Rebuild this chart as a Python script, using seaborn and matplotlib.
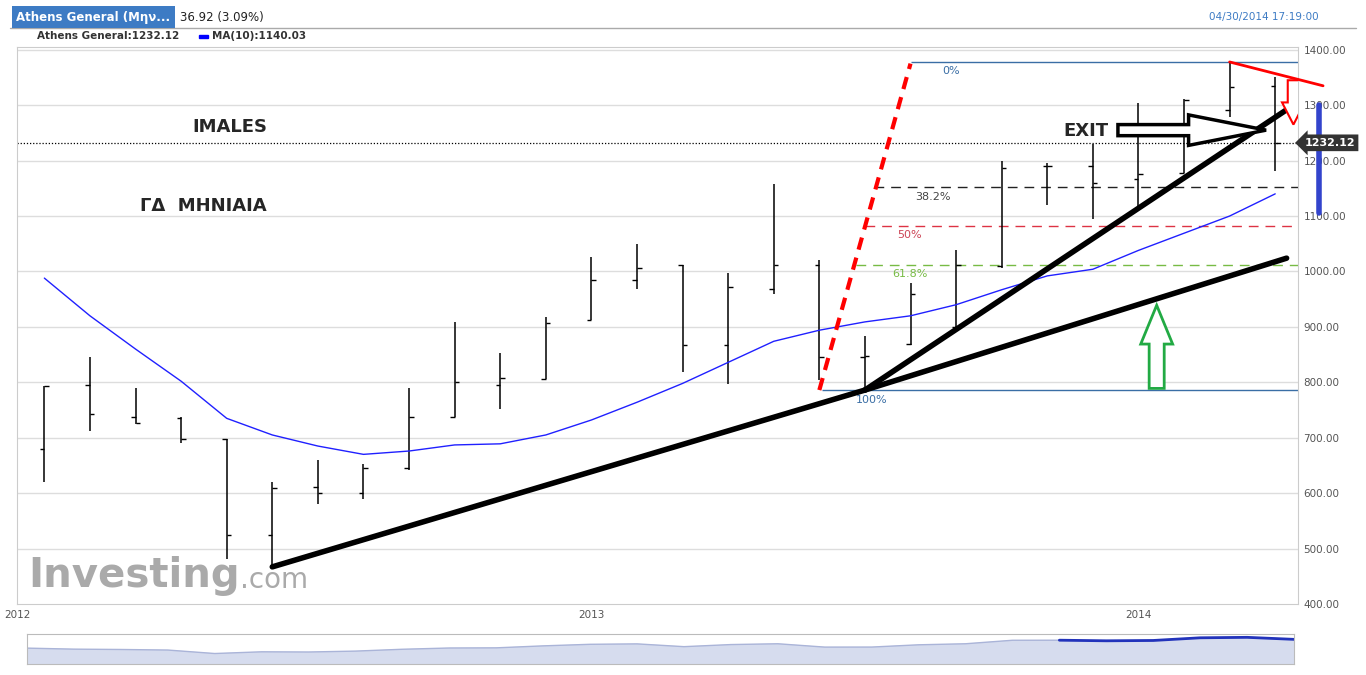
import numpy as np
import pandas as pd
import matplotlib
matplotlib.use("Agg")
import matplotlib.pyplot as plt
import seaborn as sns
from matplotlib.patches import FancyArrow

sns.set_style("white")
plt.rcParams['font.family'] = ['DejaVu Sans']

# monthly bars, Jan 2012 .. Apr 2014
opens = [680, 795, 737, 735, 698, 524, 611, 600, 645, 737, 795, 806, 912, 985, 1012, 867,
         968, 1012, 845, 870, 900, 1010, 1191, 1190, 1167, 1178, 1292, 1335]
highs = [794, 846, 789, 737, 698, 620, 660, 652, 790, 909, 853, 918, 1026, 1050, 1012, 997,
         1158, 1020, 883, 979, 1038, 1200, 1196, 1230, 1304, 1311, 1378, 1351]
lows = [620, 713, 724, 690, 482, 467, 580, 590, 642, 737, 752, 806, 912, 968, 819, 797,
        959, 804, 786, 867, 894, 1006, 1120, 1095, 1114, 1178, 1279, 1182]
closes = [794, 743, 726, 698, 524, 610, 600, 645, 737, 800, 808, 907, 985, 1006, 867, 972,
          1012, 845, 847, 960, 1012, 1187, 1190, 1160, 1176, 1310, 1333, 1232.12]
ma10 = [988, 920, 860, 802, 735, 705, 685, 670, 676, 687, 689, 705, 732, 764, 798, 836,
        874, 894, 909, 920, 940, 967, 992, 1004, 1038, 1069, 1100, 1140.03]
year_ticks = [-0.6, 12, 24]
year_labels = ["2012", "2013", "2014"]
fib_pcts = ["0%", "38.2%", "50%", "61.8%", "100%"]
fib_vals = [1378, 1152, 1082, 1012, 786]

df = pd.DataFrame({"i": np.arange(len(opens)), "open": opens, "high": highs,
                   "low": lows, "close": closes, "ma": ma10})

fig = plt.figure(figsize=(13.66, 6.75), dpi=100)
fig.patch.set_facecolor("white")
ax = fig.add_axes([17/1366, 1-604/675, (1298-17)/1366, (604-47)/675])
ax.set_xlim(-0.6, 27.5)
ax.set_ylim(400, 1405)
for v in range(500, 1401, 100):
    ax.axhline(v, color="#dddddd", lw=1, zorder=0)

# OHLC bars
ax.vlines(df["i"], df["low"], df["high"], color="black", lw=1.1, zorder=3)
ax.hlines(df["open"], df["i"] - 0.1, df["i"], color="black", lw=1, zorder=3)
ax.hlines(df["close"], df["i"], df["i"] + 0.1, color="black", lw=1, zorder=3)
sns.lineplot(data=df, x="i", y="ma", ax=ax, color="#2020ff", lw=1, zorder=4)

# fib levels
ax.hlines(fib_vals[0], 19, 27.5, color="#3a6ea5", lw=1)
ax.hlines(fib_vals[4], 17.05, 27.5, color="#3a6ea5", lw=1)
ax.hlines(fib_vals[1], 18.2, 27.5, color="#222222", lw=1, linestyles=(0, (7, 5)))
ax.hlines(fib_vals[2], 18.0, 27.5, color="#dd3344", lw=1, linestyles=(0, (7, 5)))
ax.hlines(fib_vals[3], 17.8, 27.5, color="#77bb44", lw=1, linestyles=(0, (7, 5)))
fcol = ["#3a6ea5", "#444444", "#cc4455", "#77bb44", "#3a6ea5"]
fx = [19.7, 19.1, 18.7, 18.6, 17.8]
for p, v, c, x in zip(fib_pcts, fib_vals, fcol, fx):
    ax.text(x, v - 8, p, color=c, fontsize=8, va="top")

ax.axhline(1232.12, color="black", lw=0.9, ls=(0, (1, 1.5)), zorder=2)

# drawings
ax.plot([17, 19], [786, 1375], color="red", lw=3, ls=(0, (3, 2)), zorder=5)
ax.plot([5, 18], [467, 786], color="black", lw=4, zorder=5)
ax.plot([18, 27.25], [786, 1024], color="black", lw=4, zorder=5)
ax.plot([18, 27.4], [786, 1300], color="black", lw=4, zorder=5)
ax.plot([26, 28.05], [1378, 1335], color="red", lw=2, zorder=5, clip_on=False)
ax.plot([27.95, 27.95], [1105, 1300], color="#3344cc", lw=4, zorder=5, clip_on=False)
ax.add_patch(FancyArrow(24.4, 789, 0, 150, width=0.33, head_width=0.7, head_length=70,
                        fc="white", ec="#22aa44", lw=2, length_includes_head=True, zorder=6))
ax.add_patch(FancyArrow(27.4, 1345, 0, -80, width=0.25, head_width=0.5, head_length=40,
                        fc="white", ec="red", lw=1.5, length_includes_head=True, zorder=6))
ax.add_patch(FancyArrow(23.55, 1255, 3.25, 0, width=20, head_width=55, head_length=1.7,
                        fc="white", ec="black", lw=2.5, length_includes_head=True, zorder=6))
ax.text(3.25, 1261, "IMALES", fontsize=13, fontweight="bold", va="center")
ax.text(2.1, 1118, "ΓΔ  ΜΗΝΙΑΙΑ", fontsize=13, fontweight="bold", va="center")
ax.text(22.35, 1253, "EXIT", fontsize=13, fontweight="bold", va="center")
ax.text(-0.35, 450, "Investing", fontsize=29, fontweight="bold", color="#aaaaaa", va="center")
ax.text(4.3, 444, ".com", fontsize=20, color="#aaaaaa", va="center")

ax.set_xticks(year_ticks, year_labels)
ax.set_yticks(range(400, 1401, 100), [f"{v}.00" for v in range(400, 1401, 100)])
ax.yaxis.tick_right()
ax.tick_params(axis="both", labelsize=7.5, colors="#555555", length=0, pad=4)
ax.set_xlabel("")
ax.set_ylabel("")
for s in ax.spines.values():
    s.set_color("#cccccc")
ax.text(1.005, 1232.12, "1232.12", transform=ax.get_yaxis_transform(), fontsize=8,
        color="white", fontweight="bold", va="center", clip_on=False,
        bbox=dict(boxstyle="larrow,pad=0.3", fc="#333333", ec="none"), zorder=7)

# header
fig.text(0.012, 1-17/675, "Athens General (Μην...", fontsize=8.5, color="white", fontweight="bold",
         va="center", bbox=dict(fc="#3d7bc4", ec="none", pad=3))
fig.text(0.132, 1-17/675, "36.92 (3.09%)", fontsize=8.5, color="#222222", va="center")
fig.text(0.027, 1-36/675, "Athens General:1232.12", fontsize=7.5, fontweight="bold",
         color="#333333", va="center")
fig.text(0.155, 1-36/675, "MA(10):1140.03", fontsize=7.5, fontweight="bold",
         color="#333333", va="center")
fig.patches.append(plt.Rectangle((0.146, 1-38/675), 0.006, 0.005, color="blue",
                                 transform=fig.transFigure))
fig.text(0.965, 1-17/675, "04/30/2014 17:19:00", fontsize=7.5, color="#3d7bc4",
         ha="right", va="center")
fig.add_artist(plt.Line2D([0.007, 0.993], [1-28/675, 1-28/675], color="#aaaaaa", lw=1))

# navigator
nav = fig.add_axes([27/1366, 1-664/675, (1294-27)/1366, 30/675])
sns.lineplot(x=df["i"], y=df["close"], ax=nav, color="#aab4d8", lw=1)
nav.fill_between(df["i"], df["close"], 0, color="#d6dcee")
nav.plot(df["i"][22:], df["close"][22:], color="#2233bb", lw=2)
nav.set_xlim(0, 27)
nav.set_ylim(0, 1500)
nav.set_xticks([])
nav.set_yticks([])
nav.set_xlabel("")
nav.set_ylabel("")
for s in nav.spines.values():
    s.set_color("#bbbbbb")

fig.savefig("out.png", dpi=100)
